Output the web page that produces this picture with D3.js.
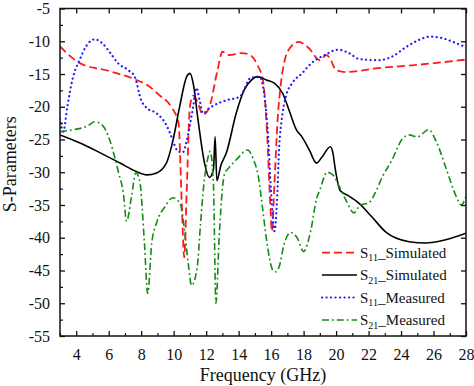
<!DOCTYPE html>
<html>
<head>
<meta charset="utf-8">
<script src="https://cdn.jsdelivr.net/npm/d3@7"></script>
<style>
  html, body { margin: 0; padding: 0; background: #fff; }
  svg { display: block; }
  text { font-family: "Liberation Serif", "Times New Roman", serif; fill: #111; }
</style>
</head>
<body>
<svg id="chart" width="474" height="386"></svg>
<script>
// ---- data ----
const xTickValues = [4, 6, 8, 10, 12, 14, 16, 18, 20, 22, 24, 26, 28];
const yTickValues = [-5, -10, -15, -20, -25, -30, -35, -40, -45, -50, -55];

const s11SimFreq = [3, 4.2, 6.1, 7.6, 8.5, 9.1, 9.9, 10.3, 10.5, 10.65, 10.8, 11.0, 11.2, 11.5, 11.8, 12.2, 12.7, 13.0, 13.4, 14.2, 14.7, 15.15, 15.5, 15.75, 15.95, 16.05, 16.2, 16.4, 16.6, 16.8, 17.2, 17.7, 18.3, 19.0, 19.4, 19.6, 20.0, 20.6, 22.6, 25, 28];
const s11SimVal  = [-10.8, -13.3, -14.6, -15.8, -16.9, -18.2, -20.2, -22.5, -35, -43, -33, -20, -18.3, -19.5, -21.2, -20, -14.4, -11.6, -12.1, -11.8, -12.1, -13.6, -16, -24, -35, -39, -32, -22, -16.5, -13.3, -10.9, -10.1, -11, -12.9, -12.1, -12.5, -14.4, -14.7, -14.1, -13.6, -12.8];

const s21SimFreq = [3, 4.2, 5.45, 6.7, 7.7, 8.35, 8.95, 9.55, 9.95, 10.35, 10.8, 11.0, 11.2, 11.5, 11.9, 12.2, 12.45, 12.55, 12.66, 12.9, 13.25, 13.85, 14.35, 14.8, 15.15, 15.7, 16.2, 16.7, 17.1, 17.55, 17.9, 18.35, 18.8, 19.1, 19.65, 19.8, 19.95, 20.25, 20.7, 21.4, 22.2, 23.05, 24.5, 25.5, 26.75, 28];
const s21SimVal  = [-24.3, -25.5, -27, -28.6, -29.9, -30.4, -30.1, -28.6, -25.2, -20.2, -15.4, -14.9, -16.4, -22, -28.6, -30.8, -29.5, -24.6, -31.3, -29, -27, -21, -17.4, -15.9, -15.4, -15.9, -16.4, -17.9, -20.5, -23.5, -24.6, -26.6, -28.6, -27.8, -26.1, -27, -29.5, -32.8, -33.5, -34.7, -36.8, -39.1, -40.6, -40.8, -40.3, -39.3];

const s11MeasFreq = [3, 3.2, 3.45, 3.8, 4.2, 4.65, 5.15, 5.6, 6.1, 6.55, 7.2, 7.6, 8.0, 8.35, 8.95, 9.55, 9.9, 10.2, 10.55, 10.85, 11.2, 11.4, 11.6, 11.8, 12.2, 13.25, 14.05, 14.8, 15.3, 15.6, 15.8, 16.0, 16.2, 16.35, 16.5, 16.65, 16.9, 17.3, 17.9, 18.5, 19.3, 20.1, 20.8, 21.4, 22.6, 23.4, 24.3, 25.1, 25.8, 26.5, 27.4, 28];
const s11MeasVal  = [-21.8, -23.8, -20, -15.5, -12.9, -10.6, -9.7, -10.3, -11.8, -13.3, -14.4, -15.4, -19, -20.2, -21, -22.8, -24.8, -26.6, -27, -24.6, -20, -17.1, -19, -21, -20.2, -19, -18.5, -15.5, -15.5, -18.5, -24, -33, -39, -35, -26, -22, -18.5, -16.4, -14.9, -13.3, -12.1, -11.3, -11.8, -12.7, -12.9, -12.4, -10.9, -9.8, -9.3, -9.5, -10.3, -10.9];

const s21MeasFreq = [3, 3.8, 4.65, 5.15, 5.6, 6.05, 6.4, 6.6, 6.9, 7.1, 7.4, 7.67, 7.9, 8.2, 8.4, 8.65, 8.95, 9.45, 9.95, 10.4, 10.65, 10.9, 11.1, 11.45, 11.65, 11.85, 12.05, 12.25, 12.45, 12.6, 12.8, 13.0, 13.15, 13.3, 13.85, 14.55, 14.9, 15.2, 15.45, 15.7, 16.1, 16.3, 16.5, 16.8, 17.2, 17.6, 18.0, 18.45, 18.8, 19.0, 19.45, 19.8, 20.2, 20.6, 21.1, 21.5, 22.0, 22.4, 22.85, 23.45, 24.05, 24.5, 25.0, 25.7, 26.2, 26.8, 27.4, 27.7, 28];
const s21MeasVal  = [-23.8, -23.5, -23, -22.3, -22.8, -25, -28, -30, -33.2, -37.5, -33.8, -30.1, -31.2, -40.8, -48.5, -40.8, -37.7, -35.3, -33.9, -34.8, -38.5, -44, -47.3, -44.5, -38, -32, -28.5, -26.8, -32, -50, -40, -32.5, -30.1, -29.6, -28.1, -26.6, -28, -30.5, -35, -40, -44.9, -45.2, -44.4, -41, -39.2, -40, -42.1, -38.8, -34, -32.7, -30, -30.4, -32.2, -34.2, -36.2, -35, -34.7, -33.2, -30.7, -28.1, -25, -24.3, -24.6, -23.5, -25.5, -29.6, -33.7, -35, -33.7];

const seriesNames = ["S11_Simulated", "S21_Simulated", "S11_Measured", "S21_Measured"];

// ---- layout ----
const svg = d3.select("#chart");
const L = 60, R = 466, T = 8.5, B = 336;
const x = d3.scaleLinear().domain([3, 28]).range([L, R]);
const y = d3.scaleLinear().domain([-55, -5]).range([B, T]);

const series = [
  { name: seriesNames[0], f: s11SimFreq, v: s11SimVal, color: "#ff1a1a", dash: "8,4", width: 1.8, cap: "butt" },
  { name: seriesNames[1], f: s21SimFreq, v: s21SimVal, color: "#000000", dash: null, width: 1.6, cap: "butt" },
  { name: seriesNames[2], f: s11MeasFreq, v: s11MeasVal, color: "#1a1aff", dash: "0.1,4.4", width: 2.2, cap: "round" },
  { name: seriesNames[3], f: s21MeasFreq, v: s21MeasVal, color: "#168a16", dash: "7,3,1.8,3", width: 1.6, cap: "butt" }
];

svg.append("defs").append("clipPath").attr("id", "clip")
  .append("rect").attr("x", L).attr("y", T).attr("width", R - L).attr("height", B - T);

const line = d3.line()
  .x(d => x(d[0])).y(d => y(d[1]))
  .curve(d3.curveMonotoneX);

const g = svg.append("g").attr("clip-path", "url(#clip)");
series.forEach(s => {
  const pts = s.f.map((f, i) => [f, s.v[i]]);
  g.append("path").datum(pts)
    .attr("d", line)
    .attr("fill", "none")
    .attr("stroke", s.color)
    .attr("stroke-width", s.width)
    .attr("stroke-linecap", s.cap)
    .attr("stroke-linejoin", "round")
    .attr("stroke-dasharray", s.dash);
});

// ---- axes ----
const fontSize = 16;
// bottom
const xMinor = d3.range(3, 28.01, 1).filter(v => v % 2 === 1);
const ax = svg.append("g");
ax.append("g").attr("transform", `translate(0,${B})`)
  .call(d3.axisBottom(x).tickValues(xTickValues).tickSize(-5).tickPadding(13).tickFormat(d3.format("d")))
  .call(a => { a.select(".domain").remove(); a.selectAll("line").attr("stroke", "#111").attr("stroke-width", 1.3);
               a.selectAll("text").attr("font-size", fontSize).attr("font-family", "Liberation Serif").attr("fill", "#111"); });
ax.append("g").attr("transform", `translate(0,${B})`)
  .call(d3.axisBottom(x).tickValues(xMinor).tickSize(-3).tickFormat(""))
  .call(a => { a.select(".domain").remove(); a.selectAll("line").attr("stroke", "#111").attr("stroke-width", 1.2); });
// top
ax.append("g").attr("transform", `translate(0,${T})`)
  .call(d3.axisTop(x).tickValues(xTickValues).tickSize(-5).tickFormat(""))
  .call(a => { a.select(".domain").remove(); a.selectAll("line").attr("stroke", "#111").attr("stroke-width", 1.3); });
// left
const yMinor = d3.range(-52.5, -5, 5);
ax.append("g").attr("transform", `translate(${L},0)`)
  .call(d3.axisLeft(y).tickValues(yTickValues).tickSize(-5).tickPadding(10).tickFormat(d => String(d).replace("\u2212", "-")))
  .call(a => { a.select(".domain").remove(); a.selectAll("line").attr("stroke", "#111").attr("stroke-width", 1.3);
               a.selectAll("text").attr("font-size", fontSize).attr("font-family", "Liberation Serif").attr("fill", "#111"); });
ax.append("g").attr("transform", `translate(${L},0)`)
  .call(d3.axisLeft(y).tickValues(yMinor).tickSize(-3).tickFormat(""))
  .call(a => { a.select(".domain").remove(); a.selectAll("line").attr("stroke", "#111").attr("stroke-width", 1.2); });
// right
ax.append("g").attr("transform", `translate(${R},0)`)
  .call(d3.axisRight(y).tickValues(yTickValues).tickSize(-5).tickFormat(""))
  .call(a => { a.select(".domain").remove(); a.selectAll("line").attr("stroke", "#111").attr("stroke-width", 1.3); });

// frame
svg.append("rect").attr("x", L).attr("y", T).attr("width", R - L).attr("height", B - T)
  .attr("fill", "none").attr("stroke", "#111").attr("stroke-width", 1.5);

// axis titles
svg.append("text").attr("x", (L + R) / 2).attr("y", 381).attr("text-anchor", "middle")
  .attr("font-size", 18).text("Frequency (GHz)");
svg.append("text").attr("transform", `translate(16,${(T + B) / 2 - 8}) rotate(-90)`)
  .attr("text-anchor", "middle").attr("font-size", 18).text("S-Parameters");

// legend
const legY = [252.7, 275, 297.5, 320];
const leg = svg.append("g");
series.forEach((s, i) => {
  const yy = legY[i];
  leg.append("line").attr("x1", 322).attr("x2", 357).attr("y1", yy).attr("y2", yy)
    .attr("stroke", s.color).attr("stroke-width", s.width)
    .attr("stroke-linecap", s.cap).attr("stroke-dasharray", s.dash);
  const parts = s.name.match(/^S(\d\d)(_.*)$/);
  const t = leg.append("text").attr("x", 360).attr("y", yy + 5).attr("font-size", 15);
  t.append("tspan").text("S");
  t.append("tspan").attr("font-size", 10).attr("dy", 3.5).text(parts[1]);
  t.append("tspan").attr("dy", -3.5).text(parts[2]);
});
</script>
</body>
</html>
